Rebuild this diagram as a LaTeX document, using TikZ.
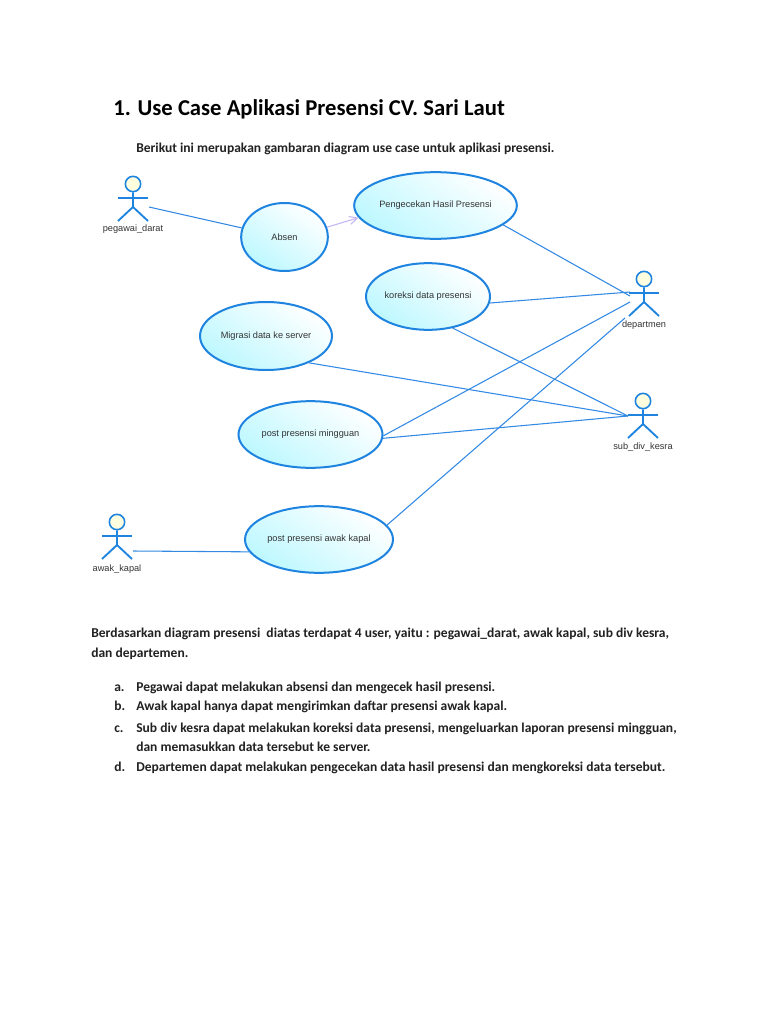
\documentclass[tikz,border=0pt]{standalone}
\usepackage{fontspec}
\setmainfont{Carlito}
\newfontfamily\umlfont{Liberation Sans}
\usetikzlibrary{shapes.geometric,arrows.meta,calc}
\definecolor{umlblue}{HTML}{1E84E0}
\definecolor{linkblue}{HTML}{3389E3}
\definecolor{tealfill}{HTML}{BDF8FF}
\definecolor{headfill}{HTML}{FFFFE0}
\definecolor{depviolet}{HTML}{C4B6F2}
\definecolor{inktext}{HTML}{222222}
\definecolor{labeltext}{HTML}{333333}
\tikzset{
  usecase/.style={ellipse,draw=umlblue,line width=1.5pt,inner sep=0pt,
    top color=white,bottom color=tealfill,shading angle=-35,
    font=\umlfont\fontsize{6.9}{8}\selectfont,text=labeltext},
  actorline/.style={draw=umlblue,line width=1.4pt},
  actorhead/.style={circle,draw=umlblue,line width=1.2pt,fill=headfill,minimum size=11.5pt,inner sep=0pt},
  actorlabel/.style={font=\umlfont\fontsize{6.9}{8}\selectfont,text=labeltext,inner sep=0pt},
  assoc/.style={draw=linkblue,line width=0.8pt},
  depend/.style={draw=depviolet,line width=0.8pt,-{Straight Barb[length=6pt,width=6pt]}},
  heading/.style={anchor=base west,inner sep=0pt,font=\fontsize{17}{20}\selectfont\bfseries,text=black},
  bodytext/.style={anchor=base west,inner sep=0pt,font=\fontsize{10.15}{12}\selectfont\bfseries,text=inktext}
}
\newcommand{\umlactor}[5]{% name, x, y of head centre, label offset, label
  \node[actorhead] (#1h) at (#2,#3) {};
  \draw[actorline] (#1h.south) -- ($(#2,#3)+(0,23)$) -- ($(#2,#3)+(-15,37)$);
  \draw[actorline] ($(#2,#3)+(0,23)$) -- ($(#2,#3)+(15,37)$);
  \draw[actorline] ($(#2,#3)+(-15,14)$) -- ($(#2,#3)+(15,14)$);
  \node[actorlabel] (#1l) at ($(#2,#3)+(0,#4)$) {#5};
}
\begin{document}
\begin{tikzpicture}[x=0.75pt,y=-0.75pt]
\useasboundingbox (0,0) rectangle (768,1024);
\fill[white] (0,0) rectangle (768,1024);
\node[heading] (title) at (113,115) {1. Use Case Aplikasi Presensi CV. Sari Laut};
\node[bodytext] (intro) at (136,152) {Berikut ini merupakan gambaran diagram use case untuk aplikasi presensi.};

\node[usecase,minimum width=65pt,minimum height=51pt] (absen) at (284.5,237) {Absen};
\node[usecase,minimum width=122pt,minimum height=50pt] (cek) at (435.5,205.5) {\raisebox{1pt}{Pengecekan Hasil Presensi}};
\node[usecase,minimum width=93pt,minimum height=50pt] (koreksi) at (428,296.5) {koreksi data presensi};
\node[usecase,minimum width=99pt,minimum height=51pt] (migrasi) at (266,336) {Migrasi data ke server};
\node[usecase,minimum width=108pt,minimum height=50pt] (minggu) at (310.5,434.5) {post presensi mingguan};
\node[usecase,minimum width=111pt,minimum height=50pt] (kapal) at (319,539.5) {post presensi awak kapal};

\umlactor{peg}{133}{184}{45}{pegawai\_darat}
\umlactor{dep}{644}{279}{46}{departmen}
\umlactor{sub}{643}{401}{46}{sub\_div\_kesra}
\umlactor{awk}{117}{522}{47}{awak\_kapal}

\coordinate (pegEnd) at (149,207);
\coordinate (awkEnd) at (133,551);
\coordinate (depA) at (630,296);
\coordinate (depB) at (630,292);
\coordinate (depC) at (630,302);
\coordinate (depD) at (625,318);
\coordinate (subA) at (628,416);

\draw[assoc] (pegEnd) -- (absen.168);
\draw[depend] (absen.13) -- (cek.189);
\draw[assoc] (cek.-16.8) -- (depA);
\draw[assoc] (koreksi.-6.9) -- (depB);
\draw[assoc] (koreksi.-52.7) -- (subA);
\draw[assoc] (migrasi.-32) -- (subA);
\draw[assoc] (minggu.-1) -- (depC);
\draw[assoc] (minggu.-3.5) -- (subA);
\draw[assoc] (kapal.12) -- (depD);
\draw[assoc] (awkEnd) -- (kapal.190);

\node[bodytext] (p1) at (91,637) {Berdasarkan diagram presensi\ \ diatas terdapat 4 user, yaitu : pegawai\_darat, awak kapal, sub div kesra,};
\node[bodytext] (p2) at (91,657) {dan departemen.};
\node[bodytext] (la) at (114,691) {a.};
\node[bodytext] (ta) at (136,691) {Pegawai dapat melakukan absensi dan mengecek hasil presensi.};
\node[bodytext] (lb) at (114,710) {b.};
\node[bodytext] (tb) at (136,710) {Awak kapal hanya dapat mengirimkan daftar presensi awak kapal.};
\node[bodytext] (lc) at (114,732) {c.};
\node[bodytext] (tc) at (136,732) {Sub div kesra dapat melakukan koreksi data presensi, mengeluarkan laporan presensi mingguan,};
\node[bodytext] (tc2) at (136,751) {dan memasukkan data tersebut ke server.};
\node[bodytext] (ld) at (114,771) {d.};
\node[bodytext] (td) at (136,771) {Departemen dapat melakukan pengecekan data hasil presensi dan mengkoreksi data tersebut.};
\end{tikzpicture}
\end{document}
